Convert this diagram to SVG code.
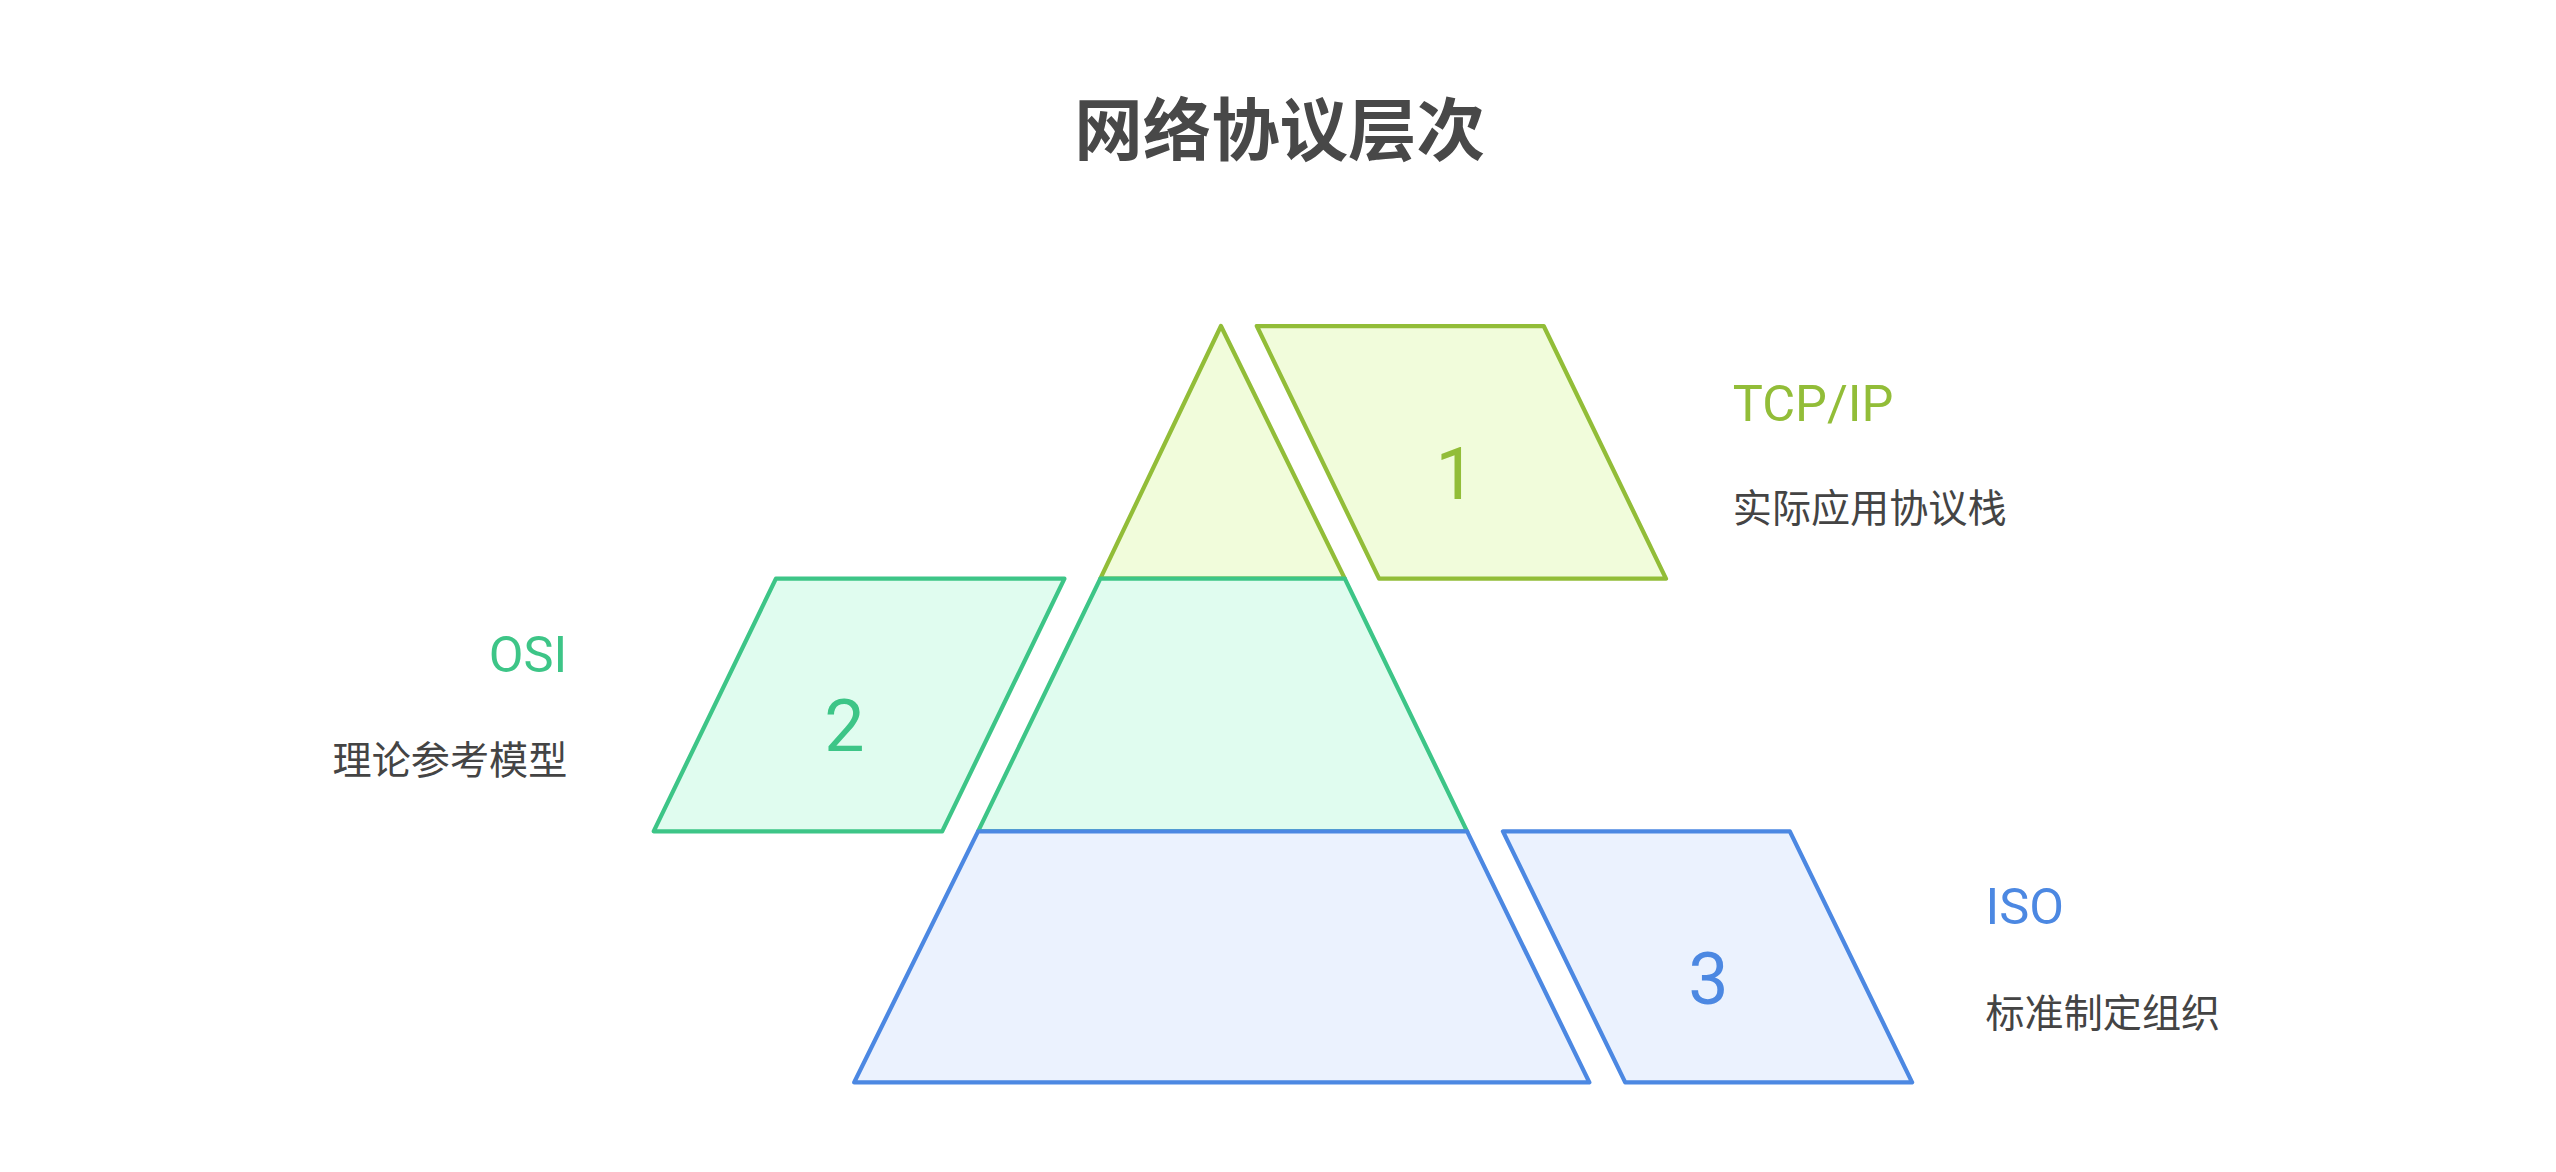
<svg xmlns="http://www.w3.org/2000/svg" width="2556" height="1172" viewBox="0 0 2556 1172">
<style>
text{font-family:"Roboto","Noto Sans CJK SC",sans-serif}
.t1{stroke:#92bd38;fill:#f1fcdb}
.t2{stroke:#3dc587;fill:#e0fcef}
.t3{stroke:#4c88e2;fill:#ebf2fe}
polygon{stroke-width:2.6;stroke-linejoin:round}
.num{font-size:44px;text-anchor:middle}
.lab{font-size:31px}
.desc{font-size:24px;fill:#444}
</style>
<rect width="2556" height="1172" fill="#fff"/>
<g transform="scale(1.6301)">
<text x="785" y="95" font-size="42" font-weight="bold" fill="#484848" text-anchor="middle">网络协议层次</text>
<g id="tier1"><polygon class="t1" points="749,200 825,355 675,355"/></g>
<g id="tier2"><polygon class="t2" points="675,355 825,355 900,510 600,510"/></g>
<g id="tier3"><polygon class="t3" points="600,510 900,510 975,664 524,664"/></g>
<g id="node1"><polygon class="t1" points="771,200 947,200 1022,355 846,355"/><text class="num" x="893" y="306" fill="#92bd38">1</text></g>
<g id="node2"><polygon class="t2" points="476,355 653,355 578,510 401,510"/><text class="num" x="518" y="461" fill="#3dc587">2</text></g>
<g id="node3"><polygon class="t3" points="922,510 1098,510 1173,664 997,664"/><text class="num" x="1048" y="616" fill="#4c88e2">3</text></g>
<g id="label1"><text class="lab" x="1063" y="258" fill="#92bd38">TCP/IP</text><text class="desc" x="1063" y="320">实际应用协议栈</text></g>
<g id="label2"><text class="lab" x="348" y="412" fill="#3dc587" text-anchor="end">OSI</text><text class="desc" x="348" y="475" text-anchor="end">理论参考模型</text></g>
<g id="label3"><text class="lab" x="1218" y="567" fill="#4c88e2">ISO</text><text class="desc" x="1218" y="630">标准制定组织</text></g>
<g id="connectors"></g>
</g>
</svg>
